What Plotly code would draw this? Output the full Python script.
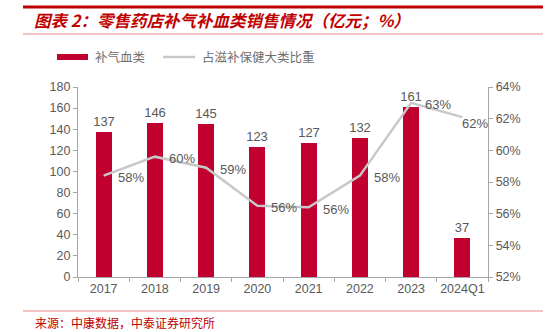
import plotly.graph_objects as go

# Retail pharmacy sales of qi/blood tonic products
categories = ["2017", "2018", "2019", "2020", "2021", "2022", "2023", "2024Q1"]
sales = [137, 146, 145, 123, 127, 132, 161, 37]            # 亿元
share = [58.4, 59.6, 58.9, 56.5, 56.4, 58.4, 63.0, 62.1]   # % of tonic & health category
left_ticks = [0, 20, 40, 60, 80, 100, 120, 140, 160, 180]
right_ticks = [52, 54, 56, 58, 60, 62, 64]

BAR_RED = "#C0002F"
LINE_GREY = "#C8C8C8"
AXIS_GREY = "#A6A6A6"
TEXT_GREY = "#595959"
TITLE_RED = "#C00000"
LATIN = "Liberation Sans, Arial, sans-serif"
CJK = "Noto Sans CJK SC, sans-serif"

fig = go.Figure()

fig.add_trace(go.Bar(
    x=categories, y=sales, name="补气血类",
    marker=dict(color=BAR_RED, line=dict(width=0)),
    width=0.31,
    text=[str(v) for v in sales], textposition="outside", constraintext="none",
    textfont=dict(family=LATIN, size=13, color=TEXT_GREY),
    cliponaxis=False, showlegend=False,
))

fig.add_trace(go.Scatter(
    x=categories, y=share, name="占滋补保健大类比重", yaxis="y2",
    mode="lines", line=dict(color=LINE_GREY, width=2.5),
    showlegend=False,
))

# share labels, set off to the right of each point (category index on x)
offsets = [(27, -2)] * 7 + [(13, -6)]
for i, (v, (dx, dy)) in enumerate(zip(share, offsets)):
    fig.add_annotation(
        x=i, y=v, xref="x", yref="y2", text=f"{v:.0f}%", showarrow=False,
        xshift=dx, yshift=dy, font=dict(family=LATIN, size=13, color=TEXT_GREY),
    )

axis_common = dict(
    showline=True, linecolor=AXIS_GREY, linewidth=1.3,
    ticks="outside", ticklen=4, tickcolor=AXIS_GREY, tickwidth=1.3,
    showgrid=False, zeroline=False,
    tickfont=dict(family=LATIN, size=12.5, color=TEXT_GREY),
)

fig.update_layout(
    width=554, height=332,
    margin=dict(l=78, r=66, t=87, b=55),
    paper_bgcolor="white", plot_bgcolor="white",
    xaxis=dict(type="category", tickson="boundaries", tickangle=0,
               range=[-0.5, len(categories) - 0.5], **axis_common),
    yaxis=dict(range=[0, 180], tickvals=left_ticks, **axis_common),
    yaxis2=dict(range=[52, 64], tickvals=right_ticks,
                ticktext=[f"{t}%" for t in right_ticks],
                overlaying="y", side="right", **axis_common),
    bargap=0.0,
)


def px_x(p):
    return (p - 78) / 410


def px_y(p):
    return (277 - p) / 190


# header and footer rules
fig.add_shape(type="line", xref="paper", yref="paper",
              x0=px_x(23), x1=px_x(543), y0=px_y(7), y1=px_y(7),
              line=dict(color=TITLE_RED, width=3))
fig.add_shape(type="line", xref="paper", yref="paper",
              x0=px_x(23), x1=px_x(543), y0=px_y(34), y1=px_y(34),
              line=dict(color="#E8898A", width=1))
fig.add_shape(type="line", xref="paper", yref="paper",
              x0=px_x(23), x1=px_x(543), y0=px_y(311), y1=px_y(311),
              line=dict(color="#E8898A", width=1))

fig.add_annotation(
    x=px_x(32), y=px_y(20), xref="paper", yref="paper", xanchor="left", yanchor="middle",
    text="<b><i>图表 2：零售药店补气补血类销售情况（亿元；%）</i></b>", showarrow=False,
    font=dict(family=CJK, size=16.5, color=TITLE_RED),
)
fig.add_annotation(
    x=px_x(33), y=px_y(322), xref="paper", yref="paper", xanchor="left", yanchor="middle",
    text="来源：中康数据，中泰证券研究所", showarrow=False,
    font=dict(family=CJK, size=12, color=TITLE_RED),
)

# legend
fig.add_shape(type="rect", xref="paper", yref="paper",
              x0=px_x(57), x1=px_x(88), y0=px_y(60), y1=px_y(54),
              fillcolor=BAR_RED, line=dict(width=0))
fig.add_annotation(
    x=px_x(93), y=px_y(57), xref="paper", yref="paper", xanchor="left", yanchor="middle",
    text="补气血类", showarrow=False, font=dict(family=CJK, size=12.5, color="#6E6E6E"),
)
fig.add_shape(type="line", xref="paper", yref="paper",
              x0=px_x(163), x1=px_x(195), y0=px_y(57), y1=px_y(57),
              line=dict(color=LINE_GREY, width=2.5))
fig.add_annotation(
    x=px_x(200), y=px_y(57), xref="paper", yref="paper", xanchor="left", yanchor="middle",
    text="占滋补保健大类比重", showarrow=False, font=dict(family=CJK, size=12.5, color="#6E6E6E"),
)

fig.write_html("out.html")
